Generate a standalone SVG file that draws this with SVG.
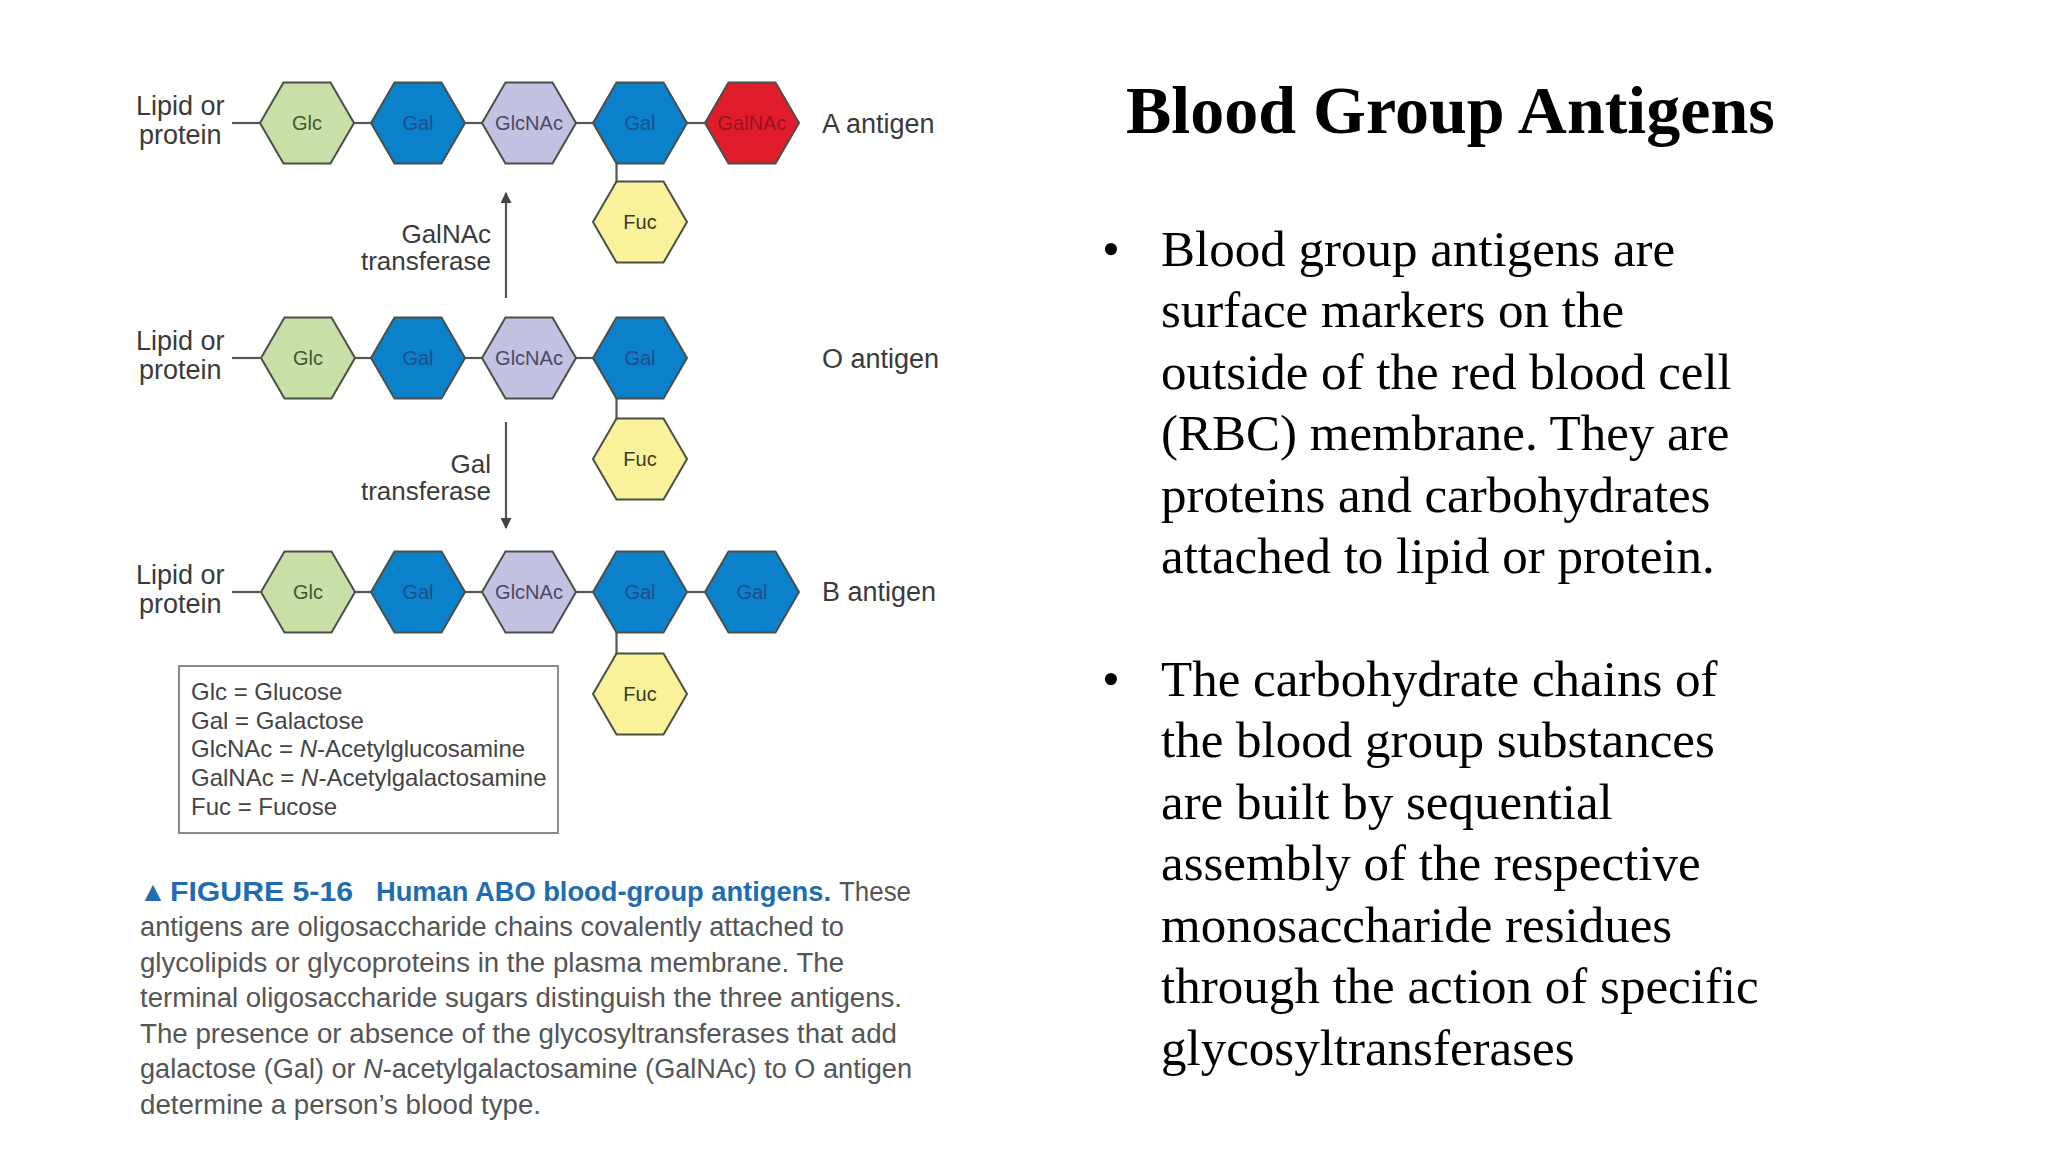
<svg xmlns="http://www.w3.org/2000/svg" xmlns:xlink="http://www.w3.org/1999/xlink" width="2048" height="1152" viewBox="0 0 2048 1152">
<style>
.hex{stroke:#4a4f48;stroke-width:2}
.glc{fill:#c8e0a8}.gal{fill:#0b80cb}.glcnac{fill:#c3c1e1}.galnac{fill:#e21d2b}.fuc{fill:#f9f29b}
.hl{font-family:"Liberation Sans",Arial,sans-serif;font-size:20px;text-anchor:middle}
.tglc{fill:#3c5a32}.tgal{fill:#1c4f8c}.tglcnac{fill:#4a4a64}.tgalnac{fill:#9a1222}.tfuc{fill:#3a3a22}
.lbl{font-family:"Liberation Sans",Arial,sans-serif;font-size:27px;fill:#3a3a3a}
.enz{font-family:"Liberation Sans",Arial,sans-serif;font-size:26px;fill:#3a3a3a;text-anchor:end}
.leg{font-family:"Liberation Sans",Arial,sans-serif;font-size:24px;fill:#444}
.cap{font-family:"Liberation Sans",Arial,sans-serif;font-size:27px;fill:#555}
.capb{font-family:"Liberation Sans",Arial,sans-serif;font-size:28px;fill:#1f6db0;font-weight:bold}
.conn line{stroke:#555;stroke-width:2.2}
.arr{stroke:#444;stroke-width:2.5;fill:none}
.serif{font-family:"Liberation Serif","Times New Roman",serif;font-size:51px;fill:#000}
.title{font-family:"Liberation Serif","Times New Roman",serif;font-size:68px;font-weight:bold;fill:#000}
</style>
<defs>
<polygon id="hexshape" points="-47,0 -23.5,-40.5 23.5,-40.5 47,0 23.5,40.5 -23.5,40.5"/>
<marker id="ah" viewBox="0 0 10 10" refX="9" refY="5" markerWidth="5" markerHeight="5" orient="auto" markerUnits="strokeWidth">
<path d="M0,0 L10,5 L0,10 z" fill="#444"/>
</marker>
</defs>
<rect width="2048" height="1152" fill="#ffffff"/>

<g class="conn" id="connectors">
<line x1="232" y1="123" x2="260" y2="123"/>
<line x1="354" y1="123" x2="371" y2="123"/>
<line x1="465" y1="123" x2="482" y2="123"/>
<line x1="576" y1="123" x2="593" y2="123"/>
<line x1="687" y1="123" x2="705" y2="123"/>
<line x1="616.5" y1="163" x2="616.5" y2="182"/>
<line x1="232" y1="358" x2="260" y2="358"/>
<line x1="354" y1="358" x2="371" y2="358"/>
<line x1="465" y1="358" x2="482" y2="358"/>
<line x1="576" y1="358" x2="593" y2="358"/>
<line x1="616.5" y1="398" x2="616.5" y2="419"/>
<line x1="232" y1="592" x2="260" y2="592"/>
<line x1="354" y1="592" x2="371" y2="592"/>
<line x1="465" y1="592" x2="482" y2="592"/>
<line x1="576" y1="592" x2="593" y2="592"/>
<line x1="687" y1="592" x2="705" y2="592"/>
<line x1="616.5" y1="632" x2="616.5" y2="654"/>
<line class="arr" x1="506" y1="298" x2="506" y2="193" marker-end="url(#ah)"/>
<line class="arr" x1="506" y1="422" x2="506" y2="528" marker-end="url(#ah)"/>
</g>

<g id="a-glc"><use xlink:href="#hexshape" href="#hexshape" x="307" y="123" class="hex glc"/><text class="hl tglc" x="307" y="130">Glc</text></g>
<g id="a-gal1"><use xlink:href="#hexshape" href="#hexshape" x="418" y="123" class="hex gal"/><text class="hl tgal" x="418" y="130">Gal</text></g>
<g id="a-glcnac"><use xlink:href="#hexshape" href="#hexshape" x="529" y="123" class="hex glcnac"/><text class="hl tglcnac" x="529" y="130">GlcNAc</text></g>
<g id="a-gal2"><use xlink:href="#hexshape" href="#hexshape" x="640" y="123" class="hex gal"/><text class="hl tgal" x="640" y="130">Gal</text></g>
<g id="a-galnac"><use xlink:href="#hexshape" href="#hexshape" x="752" y="123" class="hex galnac"/><text class="hl tgalnac" x="752" y="130">GalNAc</text></g>
<g id="a-fuc"><use xlink:href="#hexshape" href="#hexshape" x="640" y="222" class="hex fuc"/><text class="hl tfuc" x="640" y="229">Fuc</text></g>

<g id="o-glc"><use xlink:href="#hexshape" href="#hexshape" x="308" y="358" class="hex glc"/><text class="hl tglc" x="308" y="365">Glc</text></g>
<g id="o-gal1"><use xlink:href="#hexshape" href="#hexshape" x="418" y="358" class="hex gal"/><text class="hl tgal" x="418" y="365">Gal</text></g>
<g id="o-glcnac"><use xlink:href="#hexshape" href="#hexshape" x="529" y="358" class="hex glcnac"/><text class="hl tglcnac" x="529" y="365">GlcNAc</text></g>
<g id="o-gal2"><use xlink:href="#hexshape" href="#hexshape" x="640" y="358" class="hex gal"/><text class="hl tgal" x="640" y="365">Gal</text></g>
<g id="o-fuc"><use xlink:href="#hexshape" href="#hexshape" x="640" y="459" class="hex fuc"/><text class="hl tfuc" x="640" y="466">Fuc</text></g>

<g id="b-glc"><use xlink:href="#hexshape" href="#hexshape" x="308" y="592" class="hex glc"/><text class="hl tglc" x="308" y="599">Glc</text></g>
<g id="b-gal1"><use xlink:href="#hexshape" href="#hexshape" x="418" y="592" class="hex gal"/><text class="hl tgal" x="418" y="599">Gal</text></g>
<g id="b-glcnac"><use xlink:href="#hexshape" href="#hexshape" x="529" y="592" class="hex glcnac"/><text class="hl tglcnac" x="529" y="599">GlcNAc</text></g>
<g id="b-gal2"><use xlink:href="#hexshape" href="#hexshape" x="640" y="592" class="hex gal"/><text class="hl tgal" x="640" y="599">Gal</text></g>
<g id="b-gal3"><use xlink:href="#hexshape" href="#hexshape" x="752" y="592" class="hex gal"/><text class="hl tgal" x="752" y="599">Gal</text></g>
<g id="b-fuc"><use xlink:href="#hexshape" href="#hexshape" x="640" y="694" class="hex fuc"/><text class="hl tfuc" x="640" y="701">Fuc</text></g>

<g id="labels">
<text class="lbl" x="136" y="115">Lipid or</text>
<text class="lbl" x="139" y="144">protein</text>
<text class="lbl" x="136" y="350">Lipid or</text>
<text class="lbl" x="139" y="379">protein</text>
<text class="lbl" x="136" y="584">Lipid or</text>
<text class="lbl" x="139" y="613">protein</text>
<text class="lbl" x="822" y="133">A antigen</text>
<text class="lbl" x="822" y="368">O antigen</text>
<text class="lbl" x="822" y="601">B antigen</text>
<text class="enz" x="491" y="243">GalNAc</text>
<text class="enz" x="491" y="270">transferase</text>
<text class="enz" x="491" y="473">Gal</text>
<text class="enz" x="491" y="500">transferase</text>
</g>

<g id="legend">
<rect x="179" y="666" width="379" height="167" fill="#fff" stroke="#8a8a8a" stroke-width="2"/>
<text class="leg" x="191" y="700">Glc = Glucose</text>
<text class="leg" x="191" y="729">Gal = Galactose</text>
<text class="leg" x="191" y="757">GlcNAc = <tspan font-style="italic">N</tspan>-Acetylglucosamine</text>
<text class="leg" x="191" y="786">GalNAc = <tspan font-style="italic">N</tspan>-Acetylgalactosamine</text>
<text class="leg" x="191" y="815">Fuc = Fucose</text>
</g>

<g id="caption">
<text class="capb" x="139" y="901" font-size="30">▲</text>
<text class="capb" x="170" y="901" textLength="183" lengthAdjust="spacingAndGlyphs">FIGURE 5-16</text>
<text class="capb" x="376" y="901" textLength="455" lengthAdjust="spacingAndGlyphs">Human ABO blood-group antigens.</text>
<text class="cap" x="839" y="901" textLength="72" lengthAdjust="spacingAndGlyphs">These</text>
<text class="cap" x="140" y="936" textLength="704" lengthAdjust="spacingAndGlyphs">antigens are oligosaccharide chains covalently attached to</text>
<text class="cap" x="140" y="972" textLength="704" lengthAdjust="spacingAndGlyphs">glycolipids or glycoproteins in the plasma membrane. The</text>
<text class="cap" x="140" y="1007" textLength="762" lengthAdjust="spacingAndGlyphs">terminal oligosaccharide sugars distinguish the three antigens.</text>
<text class="cap" x="140" y="1043" textLength="757" lengthAdjust="spacingAndGlyphs">The presence or absence of the glycosyltransferases that add</text>
<text class="cap" x="140" y="1078" textLength="772" lengthAdjust="spacingAndGlyphs">galactose (Gal) or <tspan font-style="italic">N</tspan>-acetylgalactosamine (GalNAc) to O antigen</text>
<text class="cap" x="140" y="1114" textLength="401" lengthAdjust="spacingAndGlyphs">determine a person’s blood type.</text>
</g>

<g id="slide-text">
<text class="title" x="1126" y="133">Blood Group Antigens</text>
<text class="serif" x="1102" y="266" font-family="'Liberation Sans',Arial,sans-serif">•</text>
<text class="serif" x="1161" y="266">Blood group antigens are</text>
<text class="serif" x="1161" y="327">surface markers on the</text>
<text class="serif" x="1161" y="389">outside of the red blood cell</text>
<text class="serif" x="1161" y="450">(RBC) membrane. They are</text>
<text class="serif" x="1161" y="512">proteins and carbohydrates</text>
<text class="serif" x="1161" y="573">attached to lipid or protein.</text>
<text class="serif" x="1102" y="696" font-family="'Liberation Sans',Arial,sans-serif">•</text>
<text class="serif" x="1161" y="696">The carbohydrate chains of</text>
<text class="serif" x="1161" y="757">the blood group substances</text>
<text class="serif" x="1161" y="819">are built by sequential</text>
<text class="serif" x="1161" y="880">assembly of the respective</text>
<text class="serif" x="1161" y="942">monosaccharide residues</text>
<text class="serif" x="1161" y="1003">through the action of specific</text>
<text class="serif" x="1161" y="1065">glycosyltransferases</text>
</g>
</svg>
